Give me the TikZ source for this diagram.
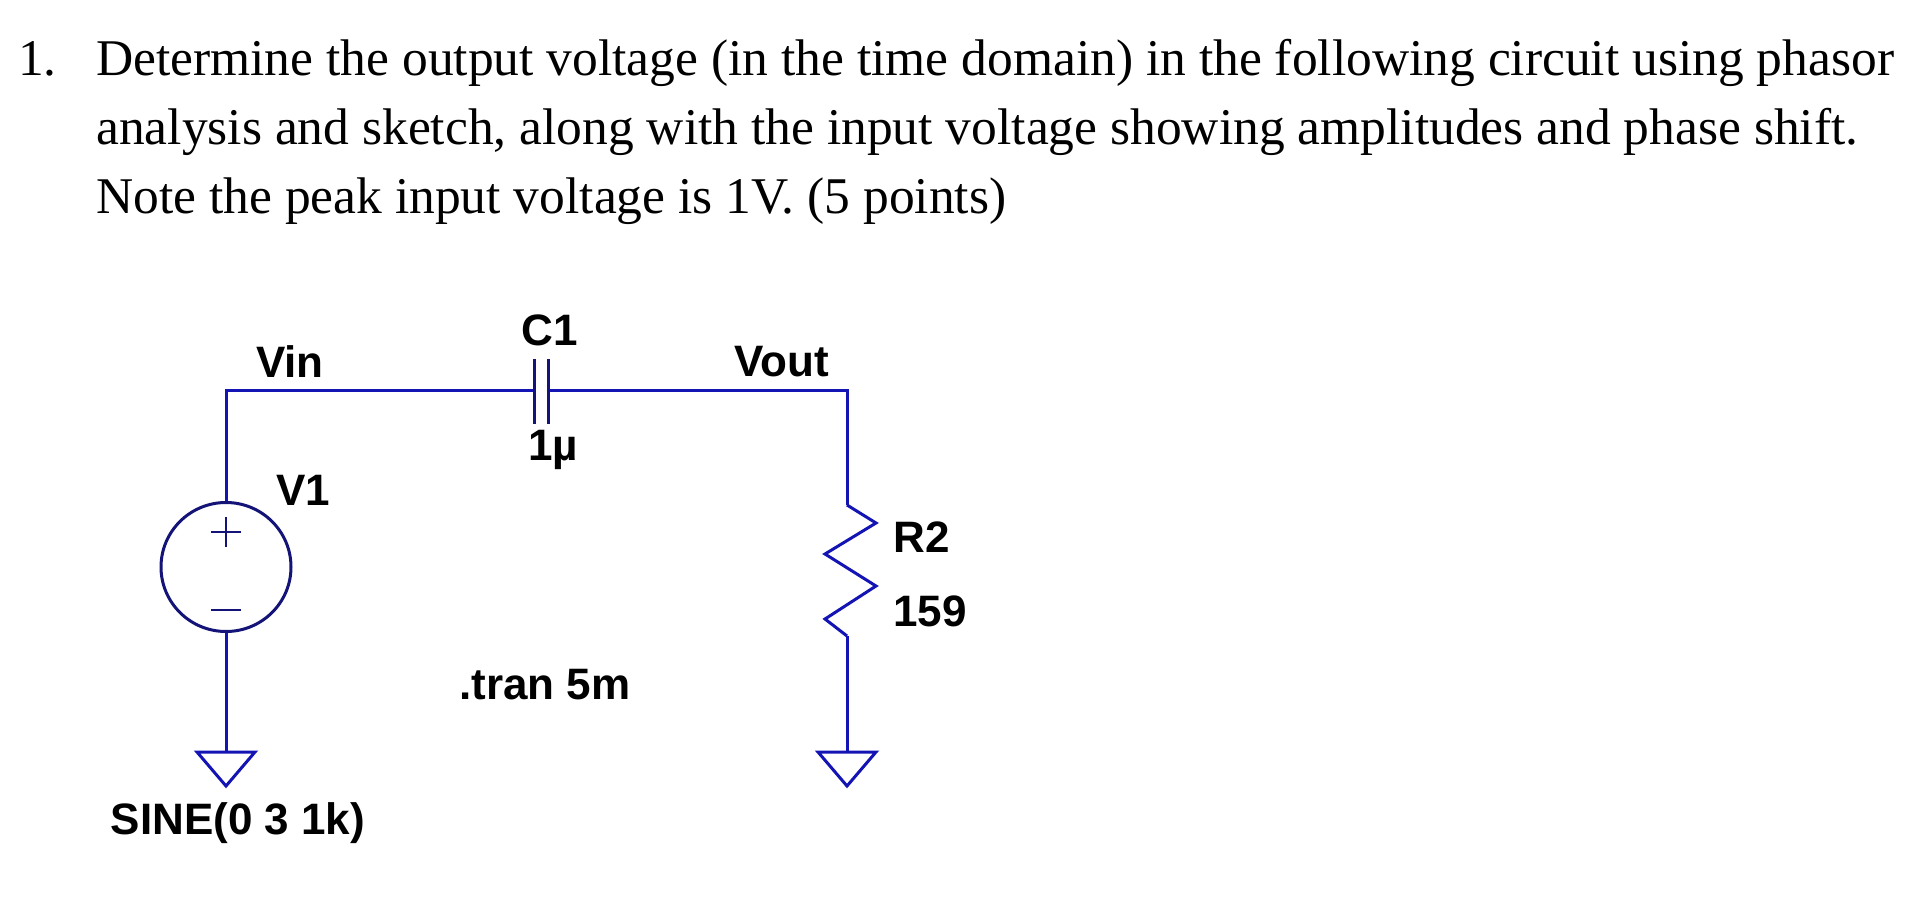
\documentclass[tikz,border=0pt]{standalone}
\usetikzlibrary{shapes.geometric}
\usepackage{fontspec}
\setmainfont{Liberation Serif}
\newfontfamily\lab{Liberation Sans}
\definecolor{wire}{RGB}{20,20,180}
\definecolor{sym}{RGB}{20,20,120}
\begin{document}
\begin{tikzpicture}[x=1pt,y=-1pt,
  wireln/.style={draw=wire,line width=3pt},
  symln/.style={draw=sym,line width=3pt},
  qtext/.style={anchor=base west,inner sep=0pt,font=\fontsize{51.5}{60}\selectfont},
  lbl/.style={inner sep=0pt,font=\lab\bfseries\fontsize{44}{52}\selectfont}]
\useasboundingbox (0,0) rectangle (1926,904);
\node[qtext] (n1) at (18,76) {1.};
\node[qtext] (q1) at (96,76) {Determine the output voltage (in the time domain) in the following circuit using phasor};
\node[qtext] (q2) at (96,145) {analysis and sketch, along with the input voltage showing amplitudes and phase shift.};
\node[qtext] (q3) at (96,214) {Note the peak input voltage is 1V. (5 points)};
% coordinates
\coordinate (tl) at (226,390);
\coordinate (tr) at (847,390);
\coordinate (cl) at (534,390);
\coordinate (cr) at (548,390);
\coordinate (vtop) at (226,503);
\coordinate (vbot) at (226,632);
\coordinate (g1) at (226,752);
\coordinate (rtop) at (847,505);
\coordinate (rbot) at (847,636);
\coordinate (g2) at (847,752);
\draw[wireln] (vtop) -- (tl) -- (cl);
\draw[wireln] (cr) -- (tr) -- (rtop);
\draw[symln] (534,359) -- (534,424);
\draw[symln] (548,359) -- (548,424);
\draw[wireln] (vbot) -- (g1);
\draw[wireln] (rbot) -- (g2);
\draw[wireln] (197,752) -- (255,752) -- (226,786) -- cycle;
\draw[wireln] (818,752) -- (876,752) -- (847,786) -- cycle;
\node[draw=sym,line width=3pt,ellipse,minimum width=130pt,minimum height=129pt,inner sep=0pt] (src) at (226,567) {};
\draw[symln,line width=2pt] (211,532) -- (241,532) (226,517) -- (226,547);
\draw[symln,line width=2pt] (211,610) -- (241,610);
\draw[wireln,line join=miter] (rtop) -- (876,523) -- (825,554) -- (876,586) -- (825,619) -- (rbot);
\node[lbl] (vin) at (290,362) {Vin};
\node[lbl] (c1) at (550,330) {C1};
\node[lbl] (vout) at (782,362) {Vout};
\node[lbl] (cv) at (553,450) {1µ};
\node[lbl] (v1) at (303,490) {V1};
\node[lbl] (r2) at (922,537) {R2};
\node[lbl] (rv) at (930,611) {159};
\node[lbl] (tr5) at (545,685) {.tran 5m};
\node[lbl] (sine) at (238,823) {SINE(0 3 1k)};
\end{tikzpicture}
\end{document}
